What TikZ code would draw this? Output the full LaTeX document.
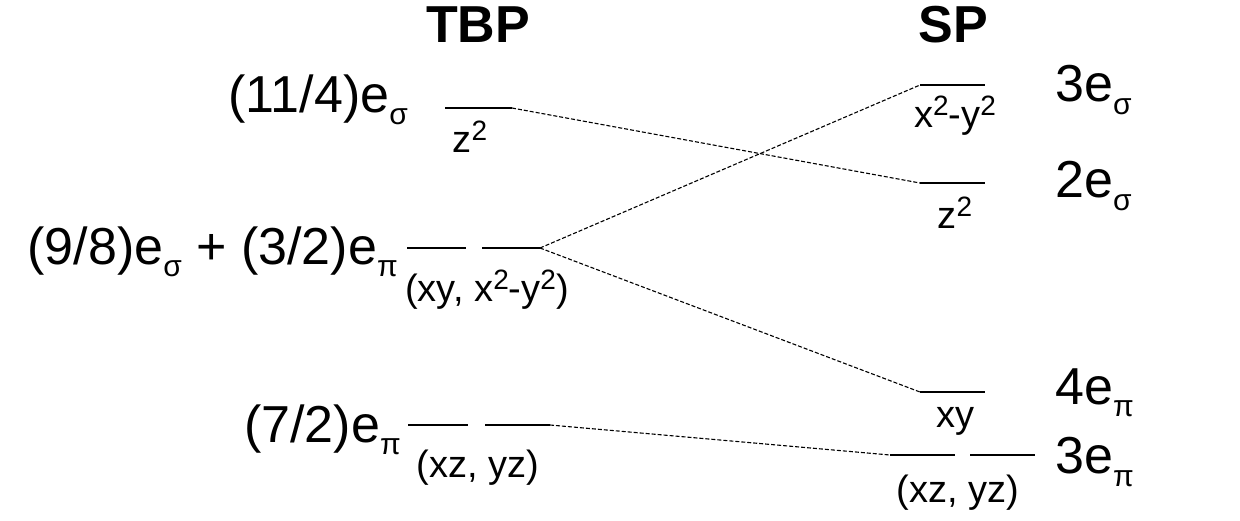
\documentclass[tikz,border=0pt]{standalone}
\usepackage{fontspec}
\setmainfont{Liberation Sans}
\newcommand{\lowidx}[1]{\raisebox{-0.45ex}{\fontsize{30}{34}\selectfont #1}}
\newcommand{\upidx}[1]{\raisebox{0.6ex}{\fontsize{28}{32}\selectfont #1}}
\begin{document}
\begin{tikzpicture}[x=1pt, y=-1pt,
  every node/.style={inner sep=0pt},
  big/.style={font=\fontsize{52}{60}\selectfont},
  small/.style={font=\fontsize{38}{44}\selectfont},
  lev/.style={line width=1.5pt},
  corr/.style={dashed, dash pattern=on 4pt off 2pt, line width=1.1pt}]
\useasboundingbox (0,0) rectangle (1240,520);
\node[font=\fontsize{52}{60}\selectfont\bfseries] (tbp) at (478,25) {TBP};
\node[font=\fontsize{52}{60}\selectfont\bfseries] (sp) at (953,25) {SP};
% TBP levels
\coordinate (a1) at (445,108); \coordinate (a2) at (512,108);
\coordinate (b1) at (407,248); \coordinate (b2) at (466,248);
\coordinate (b3) at (482,248); \coordinate (b4) at (540,248);
\coordinate (c1) at (408,425); \coordinate (c2) at (468,425);
\coordinate (c3) at (485,425); \coordinate (c4) at (550,425);
\draw[lev] (a1)--(a2); \draw[lev] (b1)--(b2); \draw[lev] (b3)--(b4);
\draw[lev] (c1)--(c2); \draw[lev] (c3)--(c4);
\node[big, anchor=east] (ea) at (408,100) {(11/4)e\lowidx{σ}};
\node[big, anchor=east] (eb) at (398,252) {(9/8)e\lowidx{σ} + (3/2)e\lowidx{π}};
\node[big, anchor=east] (ec) at (401,430) {(7/2)e\lowidx{π}};
\node[small] (la) at (470,137) {z\upidx{2}};
\node[small] (lb) at (487,290) {(xy, x\upidx{2}-y\upidx{2})};
\node[small] (lc) at (478,468) {(xz, yz)};
% SP levels
\coordinate (d1) at (920,85); \coordinate (d2) at (985,85);
\coordinate (e1) at (920,183); \coordinate (e2) at (985,183);
\coordinate (f1) at (920,392); \coordinate (f2) at (985,392);
\coordinate (g1) at (890,455); \coordinate (g2) at (955,455);
\coordinate (g3) at (970,455); \coordinate (g4) at (1035,455);
\draw[lev] (d1)--(d2); \draw[lev] (e1)--(e2); \draw[lev] (f1)--(f2);
\draw[lev] (g1)--(g2); \draw[lev] (g3)--(g4);
\node[small] (ld) at (955,116) {x\upidx{2}-y\upidx{2}};
\node[small] (le) at (955,213) {z\upidx{2}};
\node[small] (lf) at (955,421) {xy};
\node[small] (lg) at (958,493) {(xz, yz)};
\node[big, anchor=west] (ed) at (1055,90) {3e\lowidx{σ}};
\node[big, anchor=west] (ee) at (1055,186) {2e\lowidx{σ}};
\node[big, anchor=west] (ef) at (1055,393) {4e\lowidx{π}};
\node[big, anchor=west] (eg) at (1055,462) {3e\lowidx{π}};
% correlations
\draw[corr] (a2)--(e1);
\draw[corr] (b4)--(d1);
\draw[corr] (b4)--(f1);
\draw[corr] (c4)--(g1);
\end{tikzpicture}
\end{document}
